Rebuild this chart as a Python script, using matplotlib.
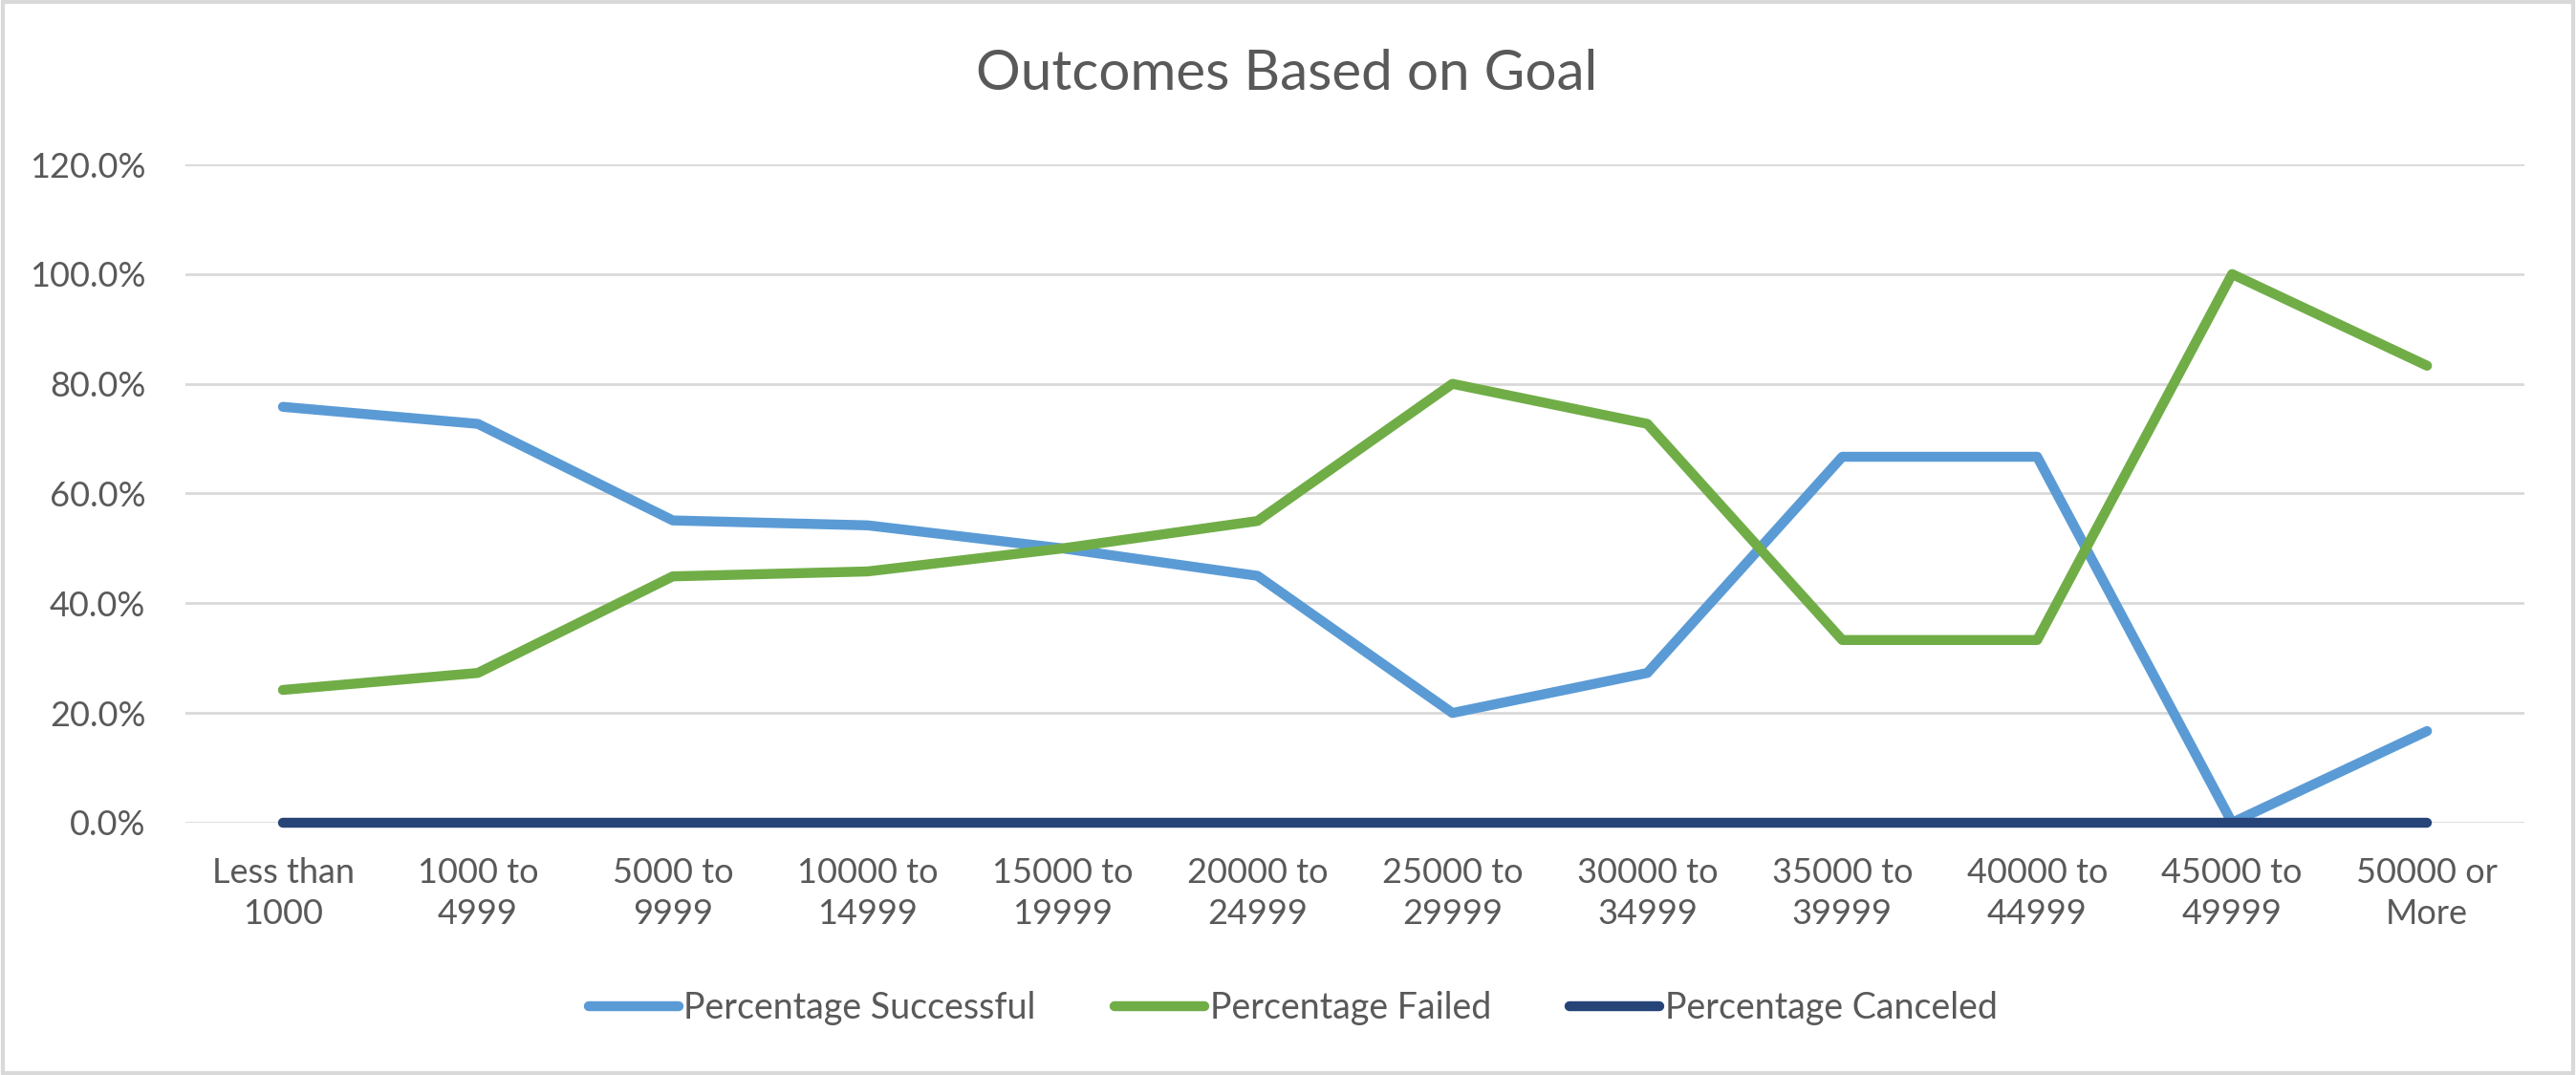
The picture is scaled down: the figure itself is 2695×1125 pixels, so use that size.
import matplotlib.pyplot as plt
from matplotlib.patches import Rectangle
from matplotlib.ticker import PercentFormatter

# goal ranges and outcome shares (fractions)
categories = ['Less than\n1000', '1000 to\n4999', '5000 to\n9999', '10000 to\n14999',
              '15000 to\n19999', '20000 to\n24999', '25000 to\n29999', '30000 to\n34999',
              '35000 to\n39999', '40000 to\n44999', '45000 to\n49999', '50000 or\nMore']
pct_successful = [0.758, 0.727, 0.551, 0.542, 0.500, 0.450, 0.200, 0.273, 0.667, 0.667, 0.000, 0.167]
pct_failed = [0.242, 0.273, 0.449, 0.458, 0.500, 0.550, 0.800, 0.727, 0.333, 0.333, 1.000, 0.833]
pct_canceled = [0.0] * 12

text_col = '#595959'
grid_col = '#D9D9D9'
plt.rcParams['font.family'] = ['Lato', 'DejaVu Sans']

fig = plt.figure(figsize=(26.95, 11.25), dpi=100)
ax = fig.add_axes([0.072, 0.2347, 0.908, 0.6124])

x = range(len(categories))
ax.plot(x, pct_successful, color='#5B9BD5', lw=7.5, solid_capstyle='round',
        solid_joinstyle='round', label='Percentage Successful', zorder=3, clip_on=False)
ax.plot(x, pct_failed, color='#70AD47', lw=7.5, solid_capstyle='round',
        solid_joinstyle='round', label='Percentage Failed', zorder=3, clip_on=False)
ax.plot(x, pct_canceled, color='#264478', lw=7.5, solid_capstyle='round',
        solid_joinstyle='round', label='Percentage Canceled', zorder=4, clip_on=False)

ax.set_xlim(-0.5, len(categories) - 0.5)
ax.set_ylim(0, 1.2)
ax.set_yticks([0, 0.2, 0.4, 0.6, 0.8, 1.0, 1.2])
ax.yaxis.set_major_formatter(PercentFormatter(1.0, decimals=1))
ax.set_xticks(list(x))
ax.set_xticklabels(categories, linespacing=1.35)
ax.grid(axis='y', color=grid_col, lw=2)
ax.set_axisbelow(True)
for s in ax.spines.values():
    s.set_visible(False)
ax.tick_params(axis='both', length=0, labelsize=26, colors=text_col)
ax.tick_params(axis='x', pad=26)
ax.tick_params(axis='y', pad=30)

fig.text(0.4995, 0.931, 'Outcomes Based on Goal', ha='center', va='center',
         fontsize=42, color=text_col)

leg = fig.legend(loc='center', bbox_to_anchor=(0.502, 0.062), ncol=3, frameon=False,
                 fontsize=27, handlelength=2.5, handletextpad=0.15, columnspacing=2.2)
for t in leg.get_texts():
    t.set_color(text_col)

fig.patches.append(Rectangle((0.001, 0.002), 0.998, 0.996, transform=fig.transFigure,
                             fill=False, edgecolor=grid_col, lw=3))

fig.savefig('out.png', dpi=100)
